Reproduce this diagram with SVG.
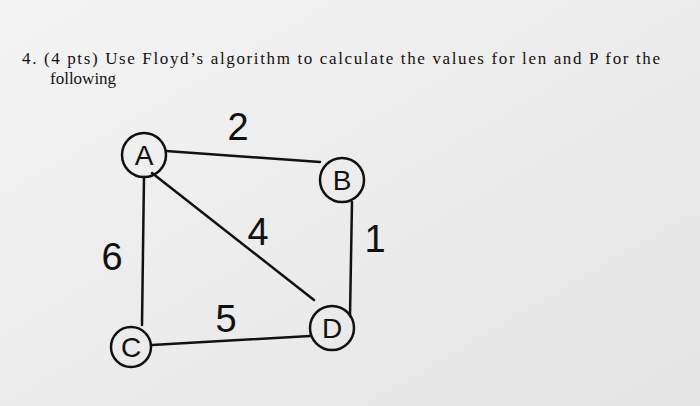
<svg xmlns="http://www.w3.org/2000/svg" width="700" height="406" viewBox="0 0 700 406">
<style>
.t{font-family:"Liberation Serif",serif;font-size:17px;fill:#111}
.n circle{fill:none;stroke:#111;stroke-width:2.5}
.n text,.l{font-family:"Liberation Sans",sans-serif;fill:#111;text-anchor:middle}
.n text{font-size:28px}
.l{font-size:38px;font-weight:300}
#edges line{stroke:#111;stroke-width:2.5;stroke-linecap:round}
</style>
<defs><linearGradient id="bg" x1="0" y1="0" x2="1" y2="1"><stop offset="0" stop-color="#f4f4f4"/><stop offset="1" stop-color="#e4e4e4"/></linearGradient></defs>
<rect width="700" height="406" fill="url(#bg)"/>
<text class="t" x="22" y="64" textLength="638" lengthAdjust="spacing">4.  (4 pts) Use Floyd’s algorithm to calculate the values for len and P for the</text>
<text class="t" x="50" y="84">following</text>
<g id="edges">
<line x1="166" y1="151" x2="320" y2="162"/>
<line x1="144" y1="177" x2="142" y2="325"/>
<line x1="152" y1="173" x2="314" y2="300"/>
<line x1="352" y1="202" x2="350" y2="316"/>
<line x1="152" y1="345" x2="310" y2="336"/>
</g>
<g id="A" class="n"><circle cx="144" cy="155" r="22"/><text x="144" y="165">A</text></g>
<g id="B" class="n"><circle cx="342" cy="180" r="22"/><text x="342" y="190">B</text></g>
<g id="C" class="n"><circle cx="131" cy="347" r="20"/><text x="131" y="357">C</text></g>
<g id="D" class="n"><circle cx="332" cy="328" r="22"/><text x="332" y="338">D</text></g>
<g id="labels">
<text class="l" x="238" y="140">2</text>
<text class="l" x="258" y="245">4</text>
<text class="l" x="112" y="270">6</text>
<text class="l" x="375" y="252">1</text>
<text class="l" x="226" y="332">5</text>
</g>
</svg>
